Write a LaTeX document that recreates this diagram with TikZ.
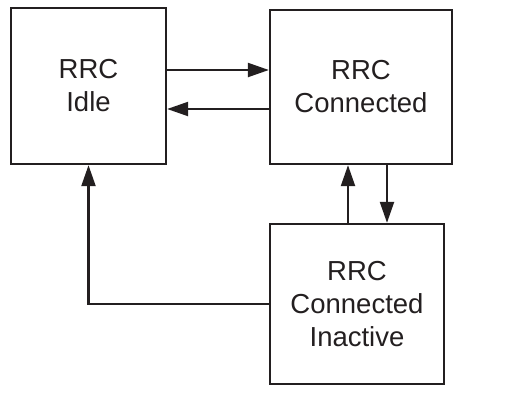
\documentclass[tikz,border=0pt]{standalone}
\usepackage{fontspec}
\setmainfont{Liberation Sans}
\usetikzlibrary{arrows.meta}
\definecolor{ink}{RGB}{35,31,32}
\tikzset{
  statebox/.style={draw=ink,line width=2.3pt,align=center,text=ink,
    font=\fontsize{27.5}{33}\selectfont,inner sep=0pt},
  arr/.style={draw=ink,line width=2.2pt,-{Triangle[length=21pt,width=14pt]}}
}
\begin{document}
\begin{tikzpicture}[x=1pt,y=1pt]
\useasboundingbox (0,0) rectangle (506,-410);

\node[statebox,minimum width=155pt,minimum height=156pt] (idle) at (88.5,-86) {RRC\\Idle};
\node[statebox,minimum width=182pt,minimum height=154pt] (conn) at (361,-87) {RRC\\Connected};
\node[statebox,minimum width=174pt,minimum height=160pt] (inact) at (357,-304) {RRC\\Connected\\Inactive};

\draw[arr] ([yshift=16pt]idle.east) -- ([yshift=16pt]idle.east -| conn.west);
\draw[arr] ([yshift=-23pt]idle.east -| conn.west) -- ([yshift=-23pt]idle.east);
\draw[arr] ([xshift=-9pt]inact.north) -- ([xshift=-9pt]inact.north |- conn.south);
\draw[arr] ([xshift=30pt]inact.north |- conn.south) -- ([xshift=30pt]inact.north);
\draw[arr] (inact.west) -| (idle.south);
\end{tikzpicture}
\end{document}
